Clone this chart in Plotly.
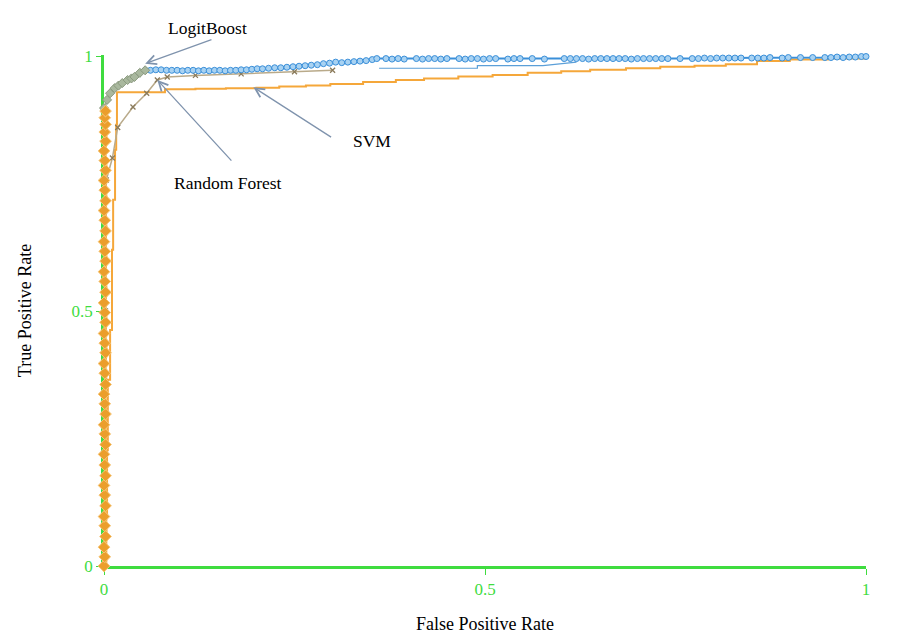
import plotly.graph_objects as go

# ROC curves (FPR, TPR)

# orange column of markers hugging the y axis
column_fpr = [0.0, 0.001, 0.0, 0.002, 0.001, 0.0, 0.002, 0.001, 0.0, 0.002, 0.001, 0.0, 0.002, 0.001,
              0.0, 0.002, 0.001, 0.0, 0.002, 0.001, 0.0, 0.002, 0.001, 0.0, 0.002, 0.001, 0.0, 0.002,
              0.001, 0.0, 0.002, 0.001, 0.0, 0.002, 0.001, 0.0, 0.002, 0.001, 0.0, 0.002, 0.001, 0.0,
              0.002, 0.001, 0.002, 0.001, 0.002]
column_tpr = [0.0, 0.018, 0.037, 0.058, 0.079, 0.097, 0.118, 0.139, 0.158, 0.177, 0.198, 0.219, 0.238,
              0.259, 0.277, 0.298, 0.318, 0.337, 0.356, 0.378, 0.397, 0.418, 0.437, 0.456, 0.478, 0.497,
              0.516, 0.537, 0.558, 0.577, 0.598, 0.617, 0.636, 0.657, 0.678, 0.697, 0.716, 0.737, 0.756,
              0.776, 0.795, 0.814, 0.833, 0.851, 0.866, 0.879, 0.892]

# bend from the column into LogitBoost
bend_fpr = [0.0, 0.004, 0.008, 0.014, 0.019, 0.024, 0.031, 0.036, 0.04, 0.047, 0.054]
bend_tpr = [0.898, 0.914, 0.927, 0.937, 0.942, 0.947, 0.953, 0.956, 0.959, 0.967, 0.972]

# LogitBoost
lb_fpr = [0.054, 0.061, 0.068, 0.075, 0.082, 0.089, 0.096, 0.103, 0.11, 0.117, 0.124, 0.131, 0.138,
          0.145, 0.152, 0.159, 0.166, 0.173, 0.18, 0.187, 0.194, 0.201, 0.208, 0.216, 0.224, 0.232,
          0.24, 0.248, 0.256, 0.264, 0.272, 0.28, 0.288, 0.296, 0.304, 0.312, 0.32, 0.328, 0.336,
          0.344, 0.352, 0.358,
          0.37, 0.378, 0.386, 0.394, 0.41, 0.418, 0.426, 0.434, 0.442, 0.45, 0.466, 0.474, 0.482,
          0.49, 0.498, 0.506, 0.514, 0.53, 0.538, 0.546, 0.562, 0.578, 0.604, 0.612, 0.62, 0.628,
          0.636, 0.644, 0.652, 0.66, 0.668, 0.676, 0.684, 0.692, 0.7, 0.708, 0.716, 0.724, 0.732,
          0.74, 0.756, 0.772, 0.78, 0.788, 0.796, 0.804, 0.812, 0.82, 0.828, 0.836, 0.85, 0.858,
          0.866, 0.874, 0.89, 0.898, 0.914, 0.93, 0.946, 0.954, 0.962, 0.97, 0.978, 0.986, 0.994, 1.0]
lb_tpr = [0.972, 0.972, 0.973, 0.973, 0.972, 0.972, 0.972, 0.971, 0.972, 0.972, 0.971, 0.972, 0.971,
          0.972, 0.972, 0.971, 0.972, 0.972, 0.973, 0.973, 0.974, 0.975, 0.975, 0.976, 0.977, 0.977,
          0.978, 0.979, 0.98, 0.981, 0.982, 0.983, 0.985, 0.986, 0.988, 0.987, 0.988, 0.989, 0.99,
          0.991, 0.993, 0.995,
          0.995, 0.994, 0.995, 0.994, 0.995, 0.994, 0.995, 0.995, 0.994, 0.995, 0.995, 0.994, 0.995,
          0.995, 0.994, 0.995, 0.995, 0.994, 0.995, 0.995, 0.995, 0.994, 0.995, 0.995, 0.995, 0.995,
          0.994, 0.995, 0.995, 0.995, 0.995, 0.995, 0.995, 0.994, 0.995, 0.995, 0.995, 0.995, 0.995,
          0.995, 0.995, 0.995, 0.995, 0.996, 0.995, 0.996, 0.996, 0.996, 0.996, 0.996, 0.996, 0.996,
          0.996, 0.997, 0.996, 0.997, 0.997, 0.997, 0.997, 0.997, 0.998, 0.997, 0.998, 0.998, 0.999, 0.999]

# LogitBoost path doubling back underneath
lb_back_fpr = [0.62, 0.576, 0.49, 0.49, 0.361]
lb_back_tpr = [0.988, 0.981, 0.981, 0.976, 0.976]

# Random Forest
rf_fpr = [0.0, 0.002, 0.003, 0.011, 0.018, 0.038, 0.056, 0.07, 0.083, 0.12, 0.18, 0.25, 0.3]
rf_tpr = [0.0, 0.5, 0.757, 0.8, 0.86, 0.9, 0.927, 0.953, 0.959, 0.962, 0.965, 0.969, 0.972]

# SVM
svm_fpr = [0.0, 0.003, 0.004, 0.004, 0.005, 0.008, 0.0105, 0.0105, 0.012, 0.0145, 0.016, 0.017,
           0.08, 0.12, 0.16, 0.2, 0.23, 0.265, 0.297, 0.34, 0.383, 0.42, 0.465, 0.51, 0.556, 0.6,
           0.638, 0.685, 0.73, 0.775, 0.816, 0.857, 0.9, 0.95, 1.0]
svm_tpr = [0.0, 0.1, 0.2, 0.227, 0.365, 0.463, 0.52, 0.62, 0.718, 0.816, 0.865, 0.929,
           0.935, 0.936, 0.937, 0.938, 0.94, 0.942, 0.945, 0.949, 0.953, 0.956, 0.96, 0.963, 0.967, 0.97,
           0.973, 0.976, 0.979, 0.981, 0.984, 0.99, 0.993, 0.995, 0.997]

serif = "Liberation Serif"
green = "#3fdc3f"
arrow_col = "#7f93ad"

fig = go.Figure()
fig.add_trace(go.Scatter(x=svm_fpr, y=svm_tpr, mode='lines', line=dict(color='#f5a73a', width=2, shape='hv'),
                         name='SVM', cliponaxis=False))
fig.add_trace(go.Scatter(x=rf_fpr, y=rf_tpr, mode='lines+markers', line=dict(color='#b9aa8a', width=1.5),
                         marker=dict(symbol='x-thin', size=5, line=dict(color='#8a7a5a', width=1.3)),
                         name='Random Forest', cliponaxis=False))
fig.add_trace(go.Scatter(x=lb_back_fpr, y=lb_back_tpr, mode='lines', line=dict(color='#5b9fd8', width=1.2),
                         showlegend=False, cliponaxis=False))
fig.add_trace(go.Scatter(x=lb_fpr, y=lb_tpr, mode='lines+markers', line=dict(color='#3a8fd9', width=2),
                         marker=dict(symbol='circle', size=6, color='#a8d2f2', line=dict(color='#3a8fd9', width=1)),
                         name='LogitBoost', cliponaxis=False))
fig.add_trace(go.Scatter(x=bend_fpr, y=bend_tpr, mode='lines+markers', line=dict(color='#a7b59c', width=2),
                         marker=dict(symbol='diamond', size=7, color='#a9b89e', line=dict(color='#8b9a80', width=1)),
                         showlegend=False, cliponaxis=False))
fig.add_trace(go.Scatter(x=column_fpr, y=column_tpr, mode='lines+markers', line=dict(color='#f2ad4a', width=4.5),
                         marker=dict(symbol='diamond', size=9, color='#eb9e2c', line=dict(color='#f7c77a', width=1)),
                         showlegend=False, cliponaxis=False))

# labels with arrows
arrow = dict(xref='x', yref='y', axref='x', ayref='y', showarrow=True, arrowhead=5,
             arrowsize=1.4, arrowwidth=1.3, arrowcolor=arrow_col, text='')
label_font = dict(family=serif, size=17.5, color='black')
fig.add_annotation(x=0.054, y=0.985, ax=0.143, ay=1.033, **arrow)
fig.add_annotation(x=0.136, xref='x', y=1.076, yref='paper', text='LogitBoost', showarrow=False, font=label_font)
fig.add_annotation(x=0.07, y=0.953, ax=0.169, ay=0.792, **arrow)
fig.add_annotation(x=0.163, y=0.751, text='Random Forest', showarrow=False, font=label_font)
fig.add_annotation(x=0.196, y=0.939, ax=0.3, ay=0.839, **arrow)
fig.add_annotation(x=0.352, y=0.833, text='SVM', showarrow=False, font=label_font)

fig.update_layout(
    width=903, height=638,
    margin=dict(l=96, r=45, t=47, b=80),
    plot_bgcolor='white', paper_bgcolor='white',
    showlegend=False,
    xaxis=dict(range=[0, 1], tickvals=[0, 0.5, 1], ticktext=['0', '0.5', '1'],
               showgrid=False, zeroline=False, showline=True, linecolor=green, linewidth=2.5,
               ticks='outside', ticklen=6, tickcolor=green, layer='below traces',
               tickfont=dict(family=serif, size=17, color=green),
               title=dict(text='False Positive Rate', font=dict(family=serif, size=18, color='black'), standoff=20)),
    yaxis=dict(range=[0, 1.002], tickvals=[0, 0.5, 1], ticktext=['0', '0.5', '1'],
               showgrid=False, zeroline=False, showline=True, linecolor=green, linewidth=2.5,
               ticks='outside', ticklen=5, tickcolor=green, layer='below traces',
               tickfont=dict(family=serif, size=17, color=green),
               title=dict(text='True Positive Rate', font=dict(family=serif, size=18, color='black'), standoff=36)),
)

fig.write_html("out.html")
